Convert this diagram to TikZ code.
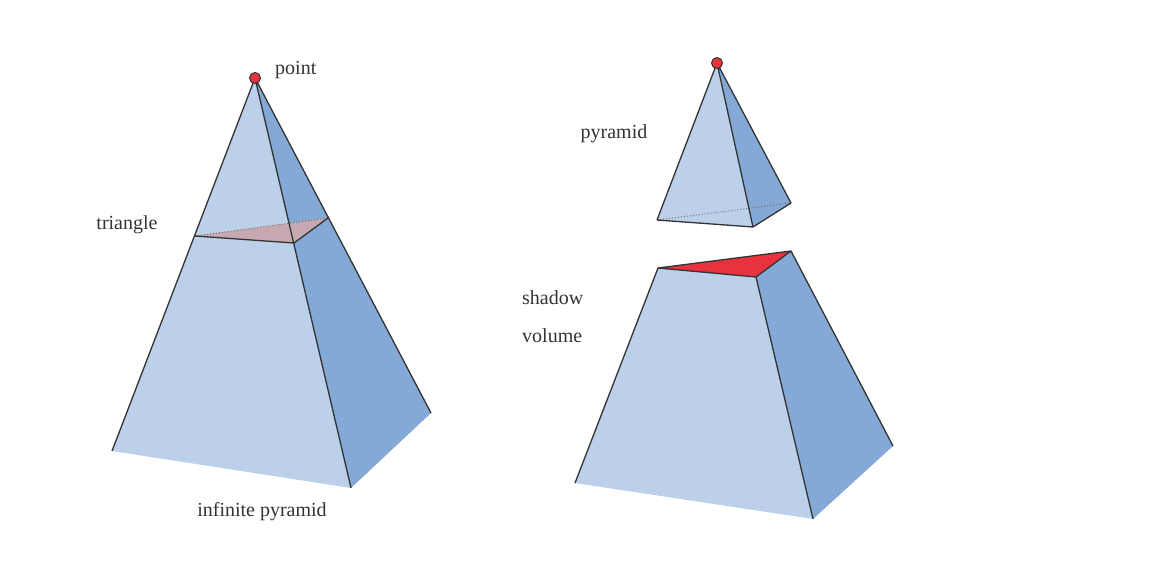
\documentclass[tikz,border=0pt]{standalone}
\usepackage{fontspec}
\setmainfont{Liberation Serif}
\definecolor{lb}{HTML}{BDD0E9}
\definecolor{db}{HTML}{84A9D6}
\definecolor{rd}{HTML}{E8333F}
\definecolor{pk}{HTML}{C7A8B0}
\definecolor{ln}{HTML}{333333}
\tikzset{edge/.style={draw=ln,line width=1.3pt,line join=round},
 dots/.style={draw=ln!70,line width=1pt,dotted},
 lbl/.style={font=\fontsize{20}{24}\selectfont,text=ln,inner sep=0pt},
 pt/.style={circle,fill=rd,draw=ln,line width=1pt,minimum size=11pt,inner sep=0pt}}
\begin{document}
\begin{tikzpicture}[x=1pt,y=-1pt]
\useasboundingbox (0,0) rectangle (1158,566);
% left
\coordinate (A) at (255,78);
\coordinate (BL) at (112,451); \coordinate (BF) at (351,488); \coordinate (BR) at (431,413);
\coordinate (TL) at (195,236); \coordinate (TF) at (294,243); \coordinate (TR) at (328,218);
\fill[lb] (A)--(BL)--(BF)--cycle;
\fill[db] (A)--(BF)--(BR)--cycle;
\fill[pk] (TL)--(TF)--(TR)--cycle;
\draw[dots] (TL)--(TR);
\draw[edge] (BL)--(A)--(BF) (A)--(BR) (TL)--(TF)--(TR);
\node[pt] (p1) at (A) {};
% right small
\coordinate (a) at (717,63);
\coordinate (sl) at (657,220); \coordinate (sf) at (753,227); \coordinate (sr) at (791,203);
\fill[lb] (a)--(sl)--(sf)--cycle;
\fill[db] (a)--(sf)--(sr)--cycle;
\draw[dots] (sl)--(sr);
\draw[edge] (sl)--(a)--(sf)--(sl) (a)--(sr)--(sf);
\node[pt] (p2) at (a) {};
% right lower
\coordinate (ul) at (658,268); \coordinate (uf) at (756,277); \coordinate (ur) at (791,251);
\coordinate (bl) at (575,483); \coordinate (bf) at (813,519); \coordinate (br) at (893,446);
\fill[lb] (ul)--(bl)--(bf)--(uf)--cycle;
\fill[db] (uf)--(bf)--(br)--(ur)--cycle;
\fill[rd] (ul)--(uf)--(ur)--cycle;
\draw[edge] (bl)--(ul)--(uf)--(bf) (uf)--(ur)--(br) (ul)--(ur);
% labels
\node[lbl,anchor=west] (l1) at (275,70) {point};
\node[lbl] (l2) at (127,225) {triangle};
\node[lbl] (l3) at (262,512) {infinite pyramid};
\node[lbl] (l4) at (614,134) {pyramid};
\node[lbl,anchor=west] (l5) at (522,298) {shadow};
\node[lbl,anchor=west] (l6) at (522,336) {volume};
\end{tikzpicture}
\end{document}
